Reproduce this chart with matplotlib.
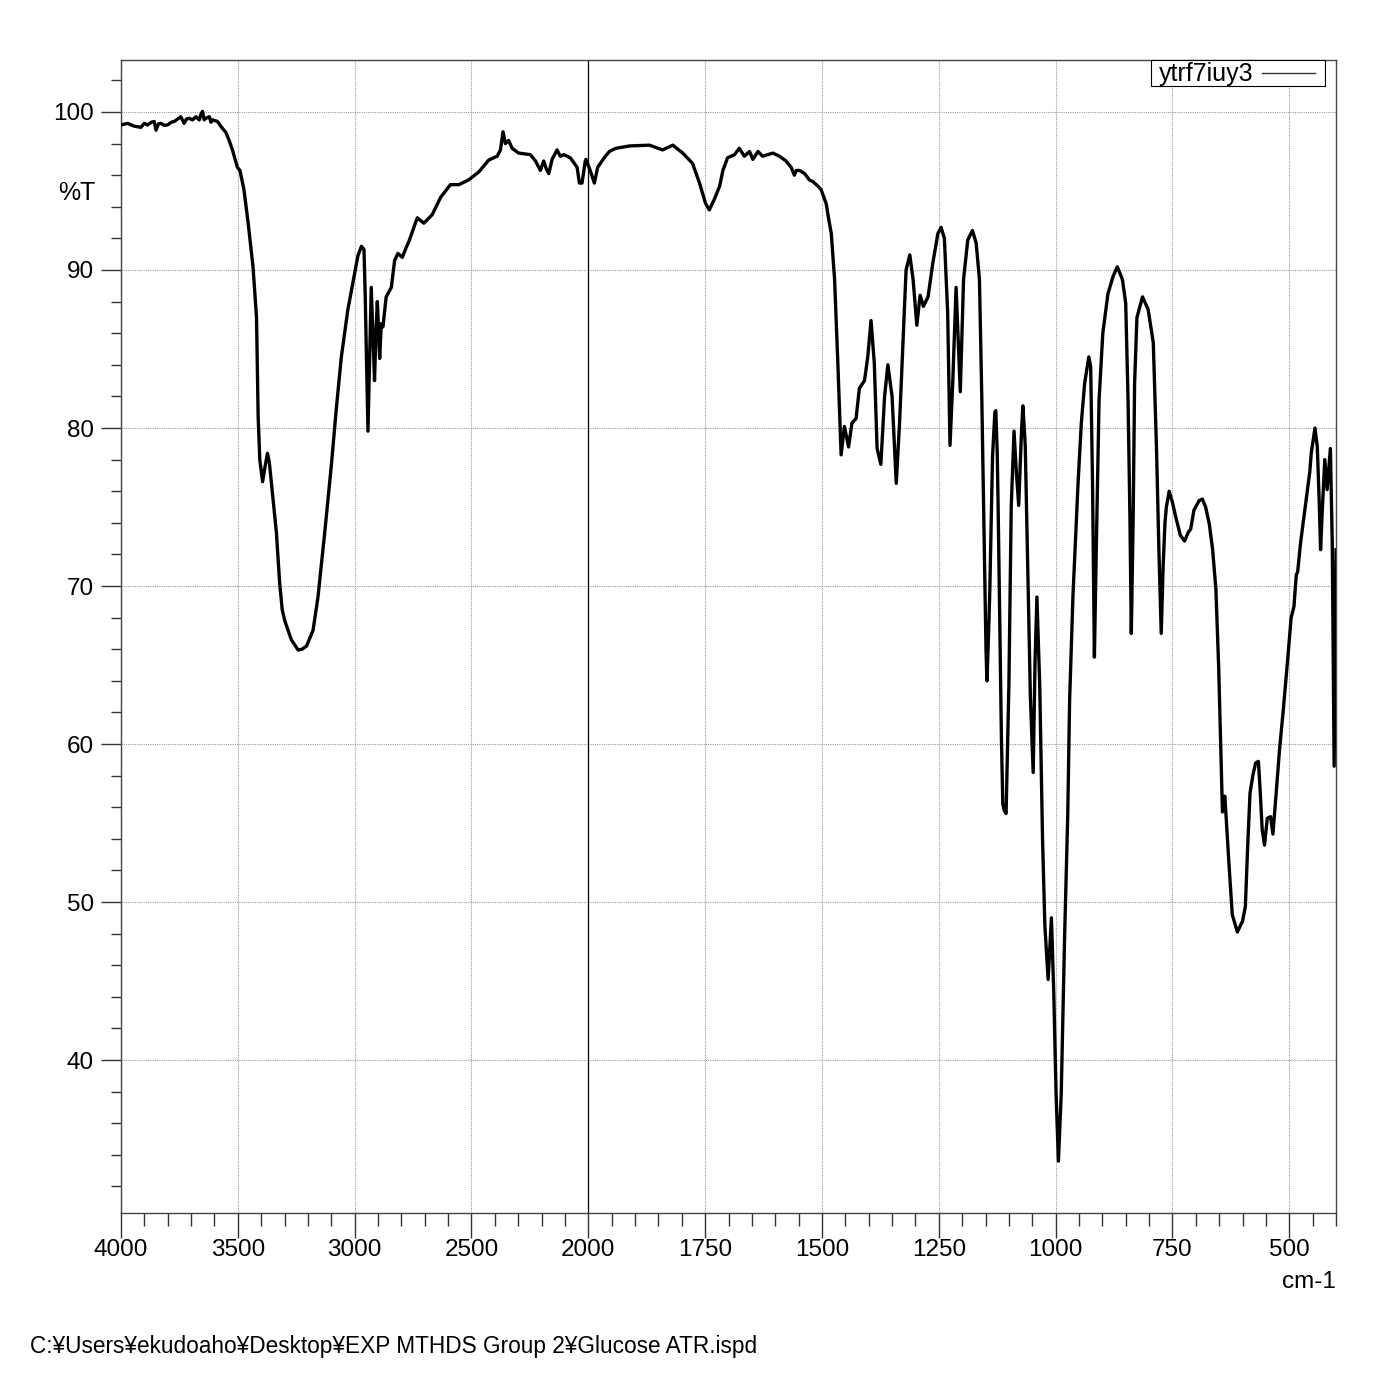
import numpy as np
import matplotlib
matplotlib.use("Agg")
import matplotlib.pyplot as plt
from matplotlib.lines import Line2D
from matplotlib.patches import Rectangle

plt.rcParams['font.family'] = ['Liberation Sans', 'DejaVu Sans']

# wavenumber (cm-1) and transmittance (%T)
wavenumber = [
    4000, 3972, 3943, 3915, 3900, 3886, 3870, 3858, 3850, 3840, 3829, 3815, 3801,
    3785, 3772, 3758, 3744, 3730, 3720, 3708, 3694, 3679, 3665, 3658, 3651, 3644,
    3637, 3622, 3615, 3608, 3587, 3573, 3551, 3537, 3523, 3502, 3491, 3474, 3456,
    3435, 3420, 3413, 3406, 3394, 3383, 3373, 3365, 3356, 3335, 3321, 3310, 3299,
    3271, 3242, 3225, 3206, 3178, 3157, 3128, 3100, 3078, 3057, 3029, 3000, 2986,
    2971, 2960, 2955, 2950, 2943, 2936, 2929, 2922, 2915, 2909, 2903, 2897, 2893,
    2886, 2879, 2865, 2843, 2829, 2815, 2796, 2780, 2768, 2732, 2704, 2668, 2632,
    2590, 2554, 2512, 2469, 2426, 2390, 2376, 2365, 2355, 2341, 2326, 2298, 2248,
    2226, 2205, 2191, 2180, 2169, 2155, 2134, 2120, 2105, 2077, 2048, 2038, 2027,
    2013, 2010, 1996, 1987, 1980, 1966, 1955, 1941, 1912, 1869, 1841, 1819, 1798,
    1777, 1762, 1749, 1741, 1730, 1719, 1712, 1702, 1687, 1677, 1666, 1655, 1648,
    1637, 1627, 1605, 1591, 1577, 1566, 1559, 1555, 1548, 1537, 1527, 1520, 1512,
    1502, 1491, 1484, 1480, 1473, 1466, 1459, 1452, 1443, 1436,
    1427, 1420, 1409, 1402, 1395, 1388, 1382, 1374, 1366, 1359, 1350, 1341, 1334,
    1327, 1320, 1312, 1305, 1297, 1290, 1283, 1273, 1263, 1252, 1245, 1238, 1231,
    1226, 1220, 1213, 1204, 1197, 1188, 1178, 1170, 1163, 1158, 1153, 1149, 1147,
    1144, 1141, 1135, 1130, 1128, 1125, 1123, 1116, 1113, 1110, 1106, 1100, 1095,
    1089, 1084, 1079, 1073, 1070, 1065, 1059, 1054, 1048, 1044, 1040, 1034, 1028,
    1023, 1016, 1009, 1004, 999, 994, 988, 981, 974, 970, 963, 952, 945, 938, 929,
    925, 921, 917, 913, 907, 899, 888, 877, 868, 857, 850, 845, 841, 838, 834, 831,
    826, 814, 802, 791, 784, 779, 774, 770, 766, 763, 757, 750, 744, 733, 724, 716,
    711, 704, 693, 686, 679, 671, 664, 657, 651, 646, 643, 638, 636, 629, 622, 611,
    600, 594, 589, 584, 578, 572, 566, 562, 558, 553, 547, 540, 535, 528, 521, 513,
    503, 496, 490, 485, 482, 476, 469, 463, 456, 453, 445, 440, 436, 433, 429, 424,
    419, 412, 408, 404, 400,
]
transmittance = [
    99.18, 99.28, 99.10, 99.03, 99.28, 99.18, 99.35, 99.40, 98.85, 99.25, 99.28, 99.15, 99.18,
    99.35, 99.40, 99.55, 99.70, 99.28, 99.55, 99.60, 99.50, 99.70, 99.50, 99.85, 100.04, 99.50,
    99.60, 99.70, 99.35, 99.50, 99.40, 99.10, 98.70, 98.20, 97.60, 96.50, 96.30, 95.10, 93.00,
    90.20, 87.00, 80.70, 78.00, 76.60, 77.60, 78.40, 77.80, 76.50, 73.40, 70.20, 68.50, 67.80,
    66.60, 65.95, 66.00, 66.20, 67.20, 69.30, 73.40, 77.60, 81.30, 84.50, 87.50, 89.80, 90.90,
    91.50, 91.30, 88.50, 84.90, 79.80, 84.50, 88.90, 86.00, 83.00, 86.00, 88.00, 86.00, 84.40,
    86.60, 86.40, 88.30, 88.90, 90.60, 91.05, 90.80, 91.40, 91.80, 93.30, 92.96, 93.50, 94.60,
    95.40, 95.40, 95.70, 96.20, 96.96, 97.20, 97.60, 98.75, 98.00, 98.20, 97.70, 97.40, 97.30,
    96.90, 96.30, 96.90, 96.40, 96.10, 97.00, 97.60, 97.20, 97.30, 97.10, 96.50, 95.50, 95.50,
    96.90, 97.00, 96.30, 95.50, 96.50, 97.10, 97.50, 97.70, 97.85, 97.90, 97.60, 97.90, 97.40,
    96.75, 95.50, 94.20, 93.80, 94.50, 95.30, 96.30, 97.10, 97.30, 97.70, 97.20, 97.50, 97.00,
    97.50, 97.20, 97.40, 97.20, 96.90, 96.50, 96.00, 96.30, 96.30, 96.10, 95.70, 95.60, 95.40,
    95.10, 94.20, 92.96, 92.30, 89.40, 84.10, 78.30, 80.10, 78.80, 80.30,
    80.60, 82.50, 83.00, 84.50, 86.80, 84.10, 78.70, 77.70, 82.00, 84.00, 82.00, 76.50, 80.30,
    85.10, 90.00, 90.95, 89.40, 86.50, 88.40, 87.70, 88.30, 90.40, 92.30, 92.70, 92.00, 87.30,
    78.90, 83.00, 88.90, 82.30, 89.40, 91.90, 92.50, 91.70, 89.40, 82.00, 73.00, 66.00, 64.00,
    66.50, 69.50, 78.20, 81.00, 81.10, 78.50, 75.00, 60.40, 56.20, 55.80, 55.60, 63.70, 75.00,
    79.80, 77.20, 75.10, 79.80, 81.40, 78.90, 70.10, 63.00, 58.20, 65.30, 69.30, 63.70, 54.00,
    48.50, 45.10, 49.00, 44.30, 37.85, 33.60, 37.85, 47.50, 55.60, 62.80, 69.30, 76.50, 80.30, 82.80, 84.50,
    83.90, 76.50, 65.50, 72.30, 81.80, 86.00, 88.50, 89.60, 90.20, 89.40, 87.90, 81.80, 74.40, 67.00, 74.40, 82.80,
    87.00, 88.30, 87.50, 85.40, 78.60, 72.30, 67.00, 71.20, 74.00, 75.00, 76.00, 75.30, 74.50, 73.20, 72.85, 73.40,
    73.60, 74.80, 75.40, 75.50, 75.00, 73.90, 72.30, 69.80, 64.80, 59.20, 55.70, 56.70, 55.80, 52.40, 49.20, 48.10,
    48.80, 49.70, 53.50, 56.90, 58.00, 58.80, 58.90, 56.90, 54.60, 53.60, 55.30, 55.40, 54.30, 56.90, 59.60, 62.10,
    65.50, 68.00, 68.70, 70.70, 70.90, 72.70, 74.30, 75.70, 77.25, 78.40, 80.00, 78.80, 75.40, 72.30, 75.00, 78.00,
    76.10, 78.70, 72.70, 58.60, 72.30,
]

major_x = [4000, 3500, 3000, 2500, 2000, 1750, 1500, 1250, 1000, 750, 500]
major_y = [40, 50, 60, 70, 80, 90, 100]
series_name = 'ytrf7iuy3'


# the instrument doubles the scale below 2000 cm-1
def fwd(x):
    x = np.asarray(x, dtype=float)
    return np.where(x > 2000, 2000 + (x - 2000) / 2.0, x)


def inv(u):
    u = np.asarray(u, dtype=float)
    return np.where(u > 2000, 2000 + (u - 2000) * 2.0, u)


W, H = 1394, 1384
fig = plt.figure(figsize=(W / 100, H / 100), dpi=100)
ax = fig.add_axes([121 / W, (H - 1213) / H, (1336 - 121) / W, (1213 - 60) / H])

ax.set_xscale('function', functions=(fwd, inv))
ax.plot(wavenumber, transmittance, color='black', lw=2.4, zorder=3)
ax.set_xlim(4000, 400)
ax.set_ylim(30.32, 103.29)

minor_x = [v for v in range(3900, 2000, -100) if v not in major_x]
minor_x += [v for v in range(1950, 399, -50) if v not in major_x]
ax.set_xticks(major_x)
ax.set_xticklabels([str(v) for v in major_x])
ax.set_xticks(minor_x, minor=True)
ax.set_yticks(major_y)
ax.set_yticklabels([str(v) for v in major_y])
ax.set_yticks([v for v in range(32, 103, 2) if v not in major_y], minor=True)

ax.tick_params(axis='x', which='major', direction='out', length=18, width=1,
               color='#333333', labelsize=17.5, pad=1)
ax.tick_params(axis='x', which='minor', direction='out', length=9.5, width=1,
               color='#333333')
ax.tick_params(axis='y', which='major', direction='out', length=14.5, width=1,
               color='#333333', labelsize=17.5, pad=5)
ax.tick_params(axis='y', which='minor', direction='out', length=7, width=1,
               color='#333333')

ax.grid(True, which='major', color='#9a9a9a', linestyle=(0, (1, 1)), linewidth=0.8)
ax.axvline(2000, color='black', lw=0.9, zorder=2)
for s in ax.spines.values():
    s.set_color('#444444')
    s.set_linewidth(1.0)

# legend box, drawn by hand so it hugs the top right corner like the original
fig.add_artist(Rectangle((1151 / W, 1 - 86 / H), (1325 - 1151) / W, 26 / H,
                         transform=fig.transFigure, facecolor='white',
                         edgecolor='black', lw=0.8, zorder=5))
fig.text(1159 / W, 1 - 74 / H, series_name, ha='left', va='center',
         fontsize=18, zorder=6)
fig.add_artist(Line2D([1262 / W, 1315 / W], [1 - 73 / H, 1 - 73 / H],
                      transform=fig.transFigure, color='#333333', lw=1, zorder=6))

fig.text(77 / W, 1 - 193 / H, '%T', ha='center', va='center', fontsize=18)
fig.text(1336 / W, 1 - 1282 / H, 'cm-1', ha='right', va='center', fontsize=17.5)
fig.text(30 / W, 1 - 1347 / H,
         'C:\u00a5Users\u00a5ekudoaho\u00a5Desktop\u00a5EXP MTHDS Group 2\u00a5Glucose ATR.ispd',
         ha='left', va='center', fontsize=16.3)

fig.savefig('out.png', dpi=100)
